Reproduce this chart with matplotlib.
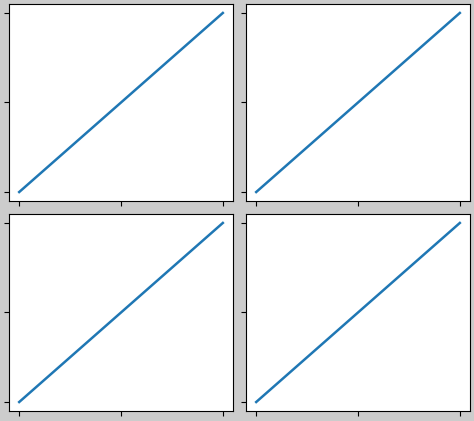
import matplotlib.pyplot as plt

# data for each panel
xvalues = [0, 1, 2]
yvalues = [0, 1, 2]
ticks = [0, 1, 2]

fig, axs = plt.subplots(2, 2, figsize=(4.74, 4.21), dpi=100)
fig.patch.set_facecolor('#cccccc')
fig.subplots_adjust(left=0.019, right=0.9916, top=0.9905, bottom=0.0238,
                    wspace=0.058, hspace=0.066)

for ax in axs.flat:
    ax.plot(xvalues, yvalues, linewidth=1.8)
    ax.set_xticks(ticks)
    ax.set_yticks(ticks)
    ax.set_xticklabels([])
    ax.set_yticklabels([])

fig.savefig('out.png', facecolor=fig.get_facecolor())
